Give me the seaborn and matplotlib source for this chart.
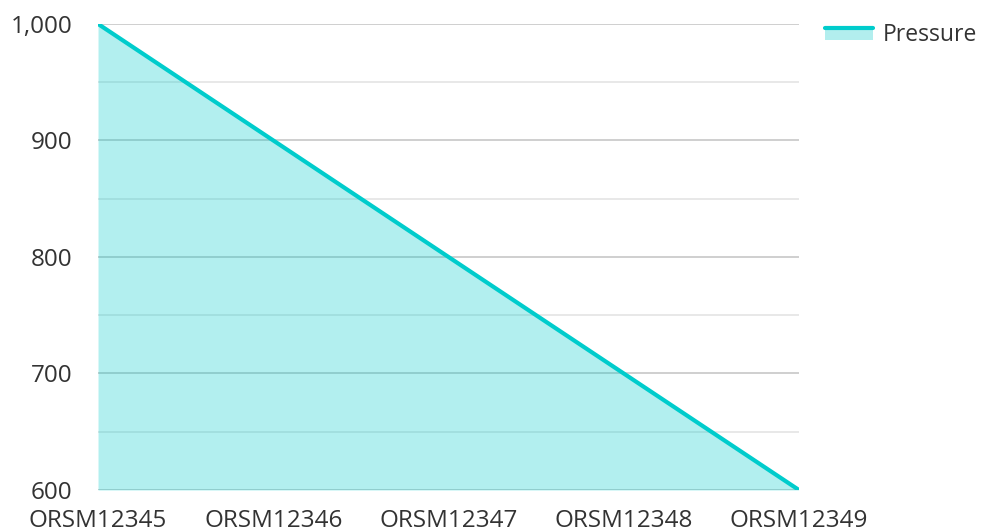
import matplotlib
matplotlib.use("Agg")
import matplotlib.pyplot as plt
import matplotlib.ticker as mticker
import seaborn as sns
import pandas as pd
from matplotlib.legend_handler import HandlerBase
from matplotlib.patches import Rectangle
from matplotlib.lines import Line2D

categories = ["ORSM12345", "ORSM12346", "ORSM12347", "ORSM12348", "ORSM12349"]
pressure = [1000, 900, 800, 700, 600]

df = pd.DataFrame({"id": categories, "Pressure": pressure})

sns.set_style("white")
plt.rcParams["font.family"] = ["Open Sans", "DejaVu Sans"]

line_col = "#00cccc"
fill_col = "#b2eeee"
txt_col = "#333333"
fs = 17.5


class AreaHandler(HandlerBase):
    # legend key: filled box with the line along its top edge
    def create_artists(self, legend, orig, xd, yd, width, height, fontsize, trans):
        box = Rectangle((-xd, -yd), width, height * 0.8, facecolor=fill_col,
                        edgecolor="none", transform=trans)
        ln = Line2D([-xd, -xd + width], [-yd + height * 0.8] * 2, color=line_col,
                    lw=3, transform=trans)
        return [box, ln]


fig, ax = plt.subplots(figsize=(9.86, 5.31), dpi=100)
fig.subplots_adjust(left=0.0994, right=0.8103, top=0.955, bottom=0.0772)

x = range(len(categories))
# translucent fill so the grid shows through it
ax.fill_between(x, pressure, 600, color=line_col, alpha=0.3, lw=0, zorder=3)
sns.lineplot(data=df, x="id", y="Pressure", color=line_col, lw=3, ax=ax,
             zorder=4, legend=False)

ax.set_xlim(0, len(categories) - 1)
ax.set_ylim(600, 1000)
ax.yaxis.set_major_locator(mticker.MultipleLocator(100))
ax.yaxis.set_minor_locator(mticker.MultipleLocator(50))
ax.yaxis.set_major_formatter(mticker.StrMethodFormatter("{x:,.0f}"))
ax.grid(True, which="major", axis="y", color="#cccccc", lw=1.3, zorder=1)
ax.grid(True, which="minor", axis="y", color="#e6e6e6", lw=1.3, zorder=1)
ax.grid(False, axis="x")
ax.set_axisbelow(True)

for s in ax.spines.values():
    s.set_visible(False)
ax.tick_params(axis="y", which="both", length=0, pad=18.5, labelsize=fs, labelcolor=txt_col)
ax.tick_params(axis="x", length=0, pad=13.5, labelsize=fs, labelcolor=txt_col)
ax.set_xlabel("")
ax.set_ylabel("")

leg = fig.legend([object()], ["Pressure"], handler_map={object: AreaHandler()},
                 loc="upper left", bbox_to_anchor=(0.837, 0.957), frameon=False,
                 borderpad=0, borderaxespad=0, fontsize=16.5, handlelength=2.1,
                 handleheight=0.62, handletextpad=0.4, labelcolor=txt_col)

fig.savefig("out.png", dpi=100)
plt.close(fig)
